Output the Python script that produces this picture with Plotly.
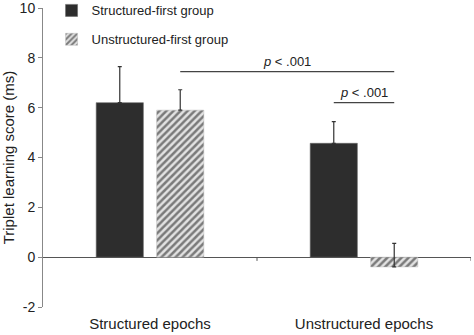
import plotly.graph_objects as go

categories = ["Structured epochs", "Unstructured epochs"]
groups = ["Structured-first group", "Unstructured-first group"]
structured_first = [6.2, 4.57]
structured_first_err = [1.45, 0.87]
unstructured_first = [5.9, -0.39]
unstructured_first_err = [0.82, 0.94]
y_ticks = [-2, 0, 2, 4, 6, 8, 10]
y_tick_labels = ["-2", "0", "2", "4", "6", "8", "10"]
sig_labels = ["<i>p</i> < .001", "<i>p</i> < .001"]

FONT = "Liberation Sans, Arial, sans-serif"
TXT = "#222222"

BARGAP = 0.435
GROUPGAP = 0.22
slot = (1 - BARGAP) / 2

fig = go.Figure()
fig.add_trace(go.Bar(
    x=[0, 1], y=structured_first, name=groups[0], legendgroup="a",
    marker=dict(color="#2d2d2d", line=dict(color="#666666", width=0.6)),
    error_y=dict(type="data", symmetric=False, array=structured_first_err,
                 arrayminus=[0, 0], color="#333333", thickness=1.2, width=2),
))
fig.add_trace(go.Bar(
    x=[0, 1], y=unstructured_first, name=groups[1], legendgroup="b",
    marker=dict(color="#e2e2e2",
                line=dict(color="#bbbbbb", width=0.5),
                pattern=dict(shape="/", fgcolor="#111111", bgcolor="#e2e2e2",
                             size=5, solidity=0.5)),
    error_y=dict(type="data", symmetric=False, array=unstructured_first_err,
                 arrayminus=[0, 0], color="#333333", thickness=1.2, width=2),
))

# significance brackets (bar centres derived from group layout)
c_sf = [i - slot / 2 for i in range(2)]
c_uf = [i + slot / 2 for i in range(2)]
shapes = [
    dict(type="line", xref="x", yref="y", x0=c_uf[0], x1=c_uf[1], y0=7.45, y1=7.45,
         line=dict(color="#444444", width=1.2)),
    dict(type="line", xref="x", yref="y", x0=c_sf[1], x1=c_uf[1], y0=6.2, y1=6.2,
         line=dict(color="#444444", width=1.2)),
]
# category boundary ticks on zero line
for b in [0.5, 1.5]:
    shapes.append(dict(type="line", xref="x", yref="y", x0=b, x1=b, y0=0, y1=-0.15,
                       line=dict(color="#555555", width=1)))

annotations = [
    dict(x=(c_uf[0] + c_uf[1]) / 2, y=7.45, xref="x", yref="y", text=sig_labels[0],
         showarrow=False, yanchor="bottom", yshift=1,
         font=dict(family=FONT, size=13, color=TXT)),
    dict(x=(c_sf[1] + c_uf[1]) / 2, y=6.2, xref="x", yref="y", text=sig_labels[1],
         showarrow=False, yanchor="bottom", yshift=1,
         font=dict(family=FONT, size=13, color=TXT)),
]

fig.update_layout(
    width=474, height=335,
    margin=dict(l=43, r=3, t=8, b=28, autoexpand=False),
    paper_bgcolor="white", plot_bgcolor="white",
    barmode="group", bargap=BARGAP, bargroupgap=GROUPGAP,
    font=dict(family=FONT, size=13, color=TXT),
    shapes=shapes, annotations=annotations,
    showlegend=True,
    legend=dict(x=0.02, y=1.042, xanchor="left", yanchor="top",
                bgcolor="rgba(0,0,0,0)", tracegroupgap=9,
                font=dict(family=FONT, size=13, color=TXT),
                itemwidth=30),
    xaxis=dict(tickmode="array", tickvals=[0, 1], ticktext=categories,
               range=[-0.5, 1.5], showline=False, showgrid=False, zeroline=False,
               ticks="", ticklabelstandoff=6,
               tickfont=dict(family=FONT, size=15, color=TXT)),
    yaxis=dict(range=[-2, 10], tickmode="array", tickvals=y_ticks,
               ticktext=y_tick_labels, showgrid=False, showline=True,
               ticklabeloverflow="allow",
               linecolor="#888888", linewidth=1, ticks="outside", ticklen=4,
               tickcolor="#888888", zeroline=True, zerolinecolor="#555555",
               zerolinewidth=1, tickfont=dict(family=FONT, size=14, color=TXT),
               title=dict(text="Triplet learning score (ms)", standoff=4,
                          font=dict(family=FONT, size=15, color=TXT))),
)

fig.write_html("out.html")
